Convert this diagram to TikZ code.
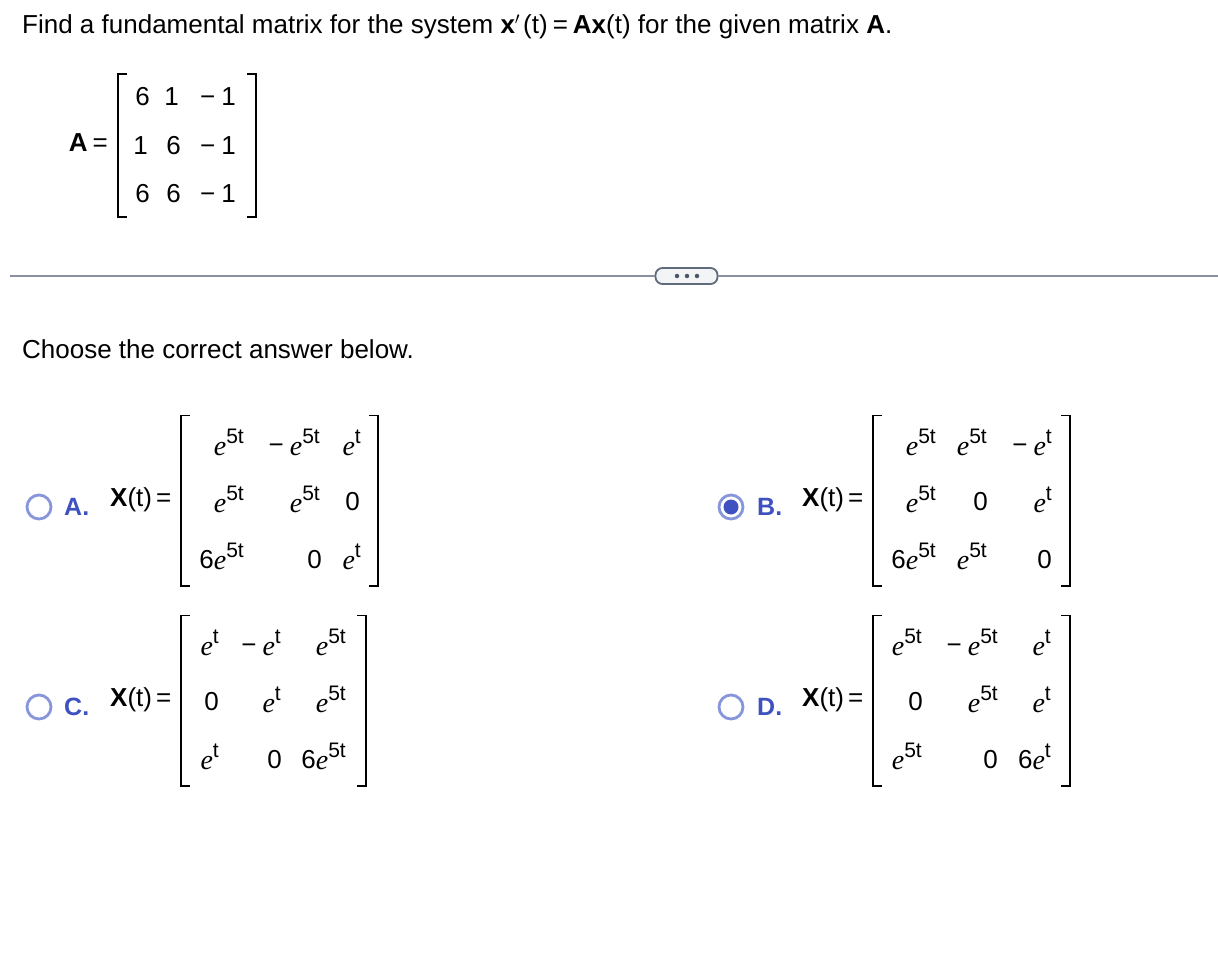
\documentclass[tikz,border=0pt]{standalone}
\usepackage{fontspec}
\usepackage{xcolor}
\setmainfont{Liberation Sans}
\newfontfamily\efont{Liberation Serif}
\usetikzlibrary{calc}
\definecolor{optcol}{HTML}{3F51C0}
\definecolor{ringcol}{HTML}{8796DA}
\definecolor{rulecol}{HTML}{8A919E}
\definecolor{pillcol}{HTML}{5F6B7A}
\definecolor{pillfill}{HTML}{F3F4F6}
\definecolor{dotcol}{HTML}{4B5563}
\newcommand{\expo}[1]{\raisebox{-1.5pt}{\efont\itshape\fontsize{28}{28}\selectfont e}\raisebox{10.3pt}{\fontsize{21}{21}\selectfont #1}}
\newcommand{\mns}{\char"2212\hspace{6pt}}
\newcommand{\brackets}[4]{(#1+9,#3) -- (#1,#3) -- (#1,#4) -- (#1+9,#4) (#2-9,#3) -- (#2,#3) -- (#2,#4) -- (#2-9,#4)}

\begin{document}
\begin{tikzpicture}[x=1pt, y=-1pt]
\tikzstyle{plain}=[inner sep=0pt, anchor=base west, font=\fontsize{26}{30}\selectfont]
\tikzstyle{cell}=[inner sep=0pt, anchor=base east, font=\fontsize{26}{30}\selectfont]
\tikzstyle{optlabel}=[inner sep=0pt, anchor=base west, text=optcol, font=\fontsize{25}{30}\selectfont\bfseries]
\tikzstyle{radio}=[circle, draw=ringcol, line width=2.8pt, fill=white, minimum size=24pt, inner sep=0pt]
\tikzstyle{bracket}=[line width=1.8pt, black]
\tikzstyle{rule}=[line width=1.6pt, rulecol]
\tikzstyle{pilldot}=[circle, fill=dotcol, minimum size=4.5pt, inner sep=0pt]

\useasboundingbox (0,0) rectangle (1218,958);

\node[plain] (title) at (22,34) {Find a fundamental matrix for the system \textbf{x}$'$\hspace{3pt}(t)\hspace{5pt}=\hspace{5pt}\textbf{Ax}(t) for the given matrix \textbf{A}.};

% given matrix
\node[cell] (lhsA) at (108,151) {\textbf{A}\hspace{5pt}=};
\draw[bracket] \brackets{118}{256}{74}{217};
\node[cell] (g11) at (150,106) {6};
\node[cell] (g12) at (179,106) {1};
\node[cell] (g13) at (236,106) {\mns 1};
\node[cell] (g21) at (148,154) {1};
\node[cell] (g22) at (181,154) {6};
\node[cell] (g23) at (236,154) {\mns 1};
\node[cell] (g31) at (150,202) {6};
\node[cell] (g32) at (181,202) {6};
\node[cell] (g33) at (236,202) {\mns 1};

% separator
\coordinate (ruleL) at (10,276);
\coordinate (ruleR) at (1218,276);
\node[draw=pillcol, fill=pillfill, line width=1.8pt, rounded corners=7pt, minimum width=62pt, minimum height=16pt, inner sep=0pt] (more) at (686.5,276) {};
\draw[rule] (ruleL) -- (more);
\draw[rule] (more) -- (ruleR);
\node[pilldot] (dot1) at (677,276) {};
\node[pilldot] (dot2) at (687,276) {};
\node[pilldot] (dot3) at (697,276) {};

\node[plain] (prompt) at (22,358) {Choose the correct answer below.};

% option A
\node[radio] (radioA) at (39,507) {};
\node[optlabel] (labelA) at (64,515) {A.};
\node[plain] (lhsa) at (110,506) {\textbf{X}(t)\hspace{4pt}=};
\draw[bracket] \brackets{181}{378}{415.5}{586};
\node[cell] (a11) at (244,453.5) {\expo{5t}};
\node[cell] (a12) at (320,453.5) {\mns\expo{5t}};
\node[cell] (a13) at (361,453.5) {\expo{t}};
\node[cell] (a21) at (244,510.5) {\expo{5t}};
\node[cell] (a22) at (320,510.5) {\expo{5t}};
\node[cell] (a23) at (360,510.5) {0};
\node[cell] (a31) at (244,568) {6\expo{5t}};
\node[cell] (a32) at (322,568) {0};
\node[cell] (a33) at (361,568) {\expo{t}};

% option B
\node[radio] (radioB) at (731,507) {};
\node[circle, fill=optcol, minimum size=15pt, inner sep=0pt] (dotB) at (radioB) {};
\node[optlabel] (labelB) at (757,515) {B.};
\node[plain] (lhsb) at (802,506) {\textbf{X}(t)\hspace{4pt}=};
\draw[bracket] \brackets{873}{1070}{415.5}{586};
\node[cell] (b11) at (936,453.5) {\expo{5t}};
\node[cell] (b12) at (987,453.5) {\expo{5t}};
\node[cell] (b13) at (1052,453.5) {\mns\expo{t}};
\node[cell] (b21) at (936,510.5) {\expo{5t}};
\node[cell] (b22) at (988,510.5) {0};
\node[cell] (b23) at (1052,510.5) {\expo{t}};
\node[cell] (b31) at (936,568) {6\expo{5t}};
\node[cell] (b32) at (987,568) {\expo{5t}};
\node[cell] (b33) at (1052,568) {0};

% option C
\node[radio] (radioC) at (39,707) {};
\node[optlabel] (labelC) at (64,715) {C.};
\node[plain] (lhsc) at (110,706) {\textbf{X}(t)\hspace{4pt}=};
\draw[bracket] \brackets{181}{366}{615.5}{786};
\node[cell] (c11) at (219,653.5) {\expo{t}};
\node[cell] (c12) at (281,653.5) {\mns\expo{t}};
\node[cell] (c13) at (346,653.5) {\expo{5t}};
\node[cell] (c21) at (219,710.5) {0};
\node[cell] (c22) at (281,710.5) {\expo{t}};
\node[cell] (c23) at (346,710.5) {\expo{5t}};
\node[cell] (c31) at (219,768) {\expo{t}};
\node[cell] (c32) at (282,768) {0};
\node[cell] (c33) at (346,768) {6\expo{5t}};

% option D
\node[radio] (radioD) at (731,707) {};
\node[optlabel] (labelD) at (757,715) {D.};
\node[plain] (lhsd) at (802,706) {\textbf{X}(t)\hspace{4pt}=};
\draw[bracket] \brackets{873}{1070}{615.5}{786};
\node[cell] (d11) at (922,653.5) {\expo{5t}};
\node[cell] (d12) at (998,653.5) {\mns\expo{5t}};
\node[cell] (d13) at (1051,653.5) {\expo{t}};
\node[cell] (d21) at (923,710.5) {0};
\node[cell] (d22) at (998,710.5) {\expo{5t}};
\node[cell] (d23) at (1051,710.5) {\expo{t}};
\node[cell] (d31) at (922,768) {\expo{5t}};
\node[cell] (d32) at (998,768) {0};
\node[cell] (d33) at (1051,768) {6\expo{t}};
\end{tikzpicture}
\end{document}
